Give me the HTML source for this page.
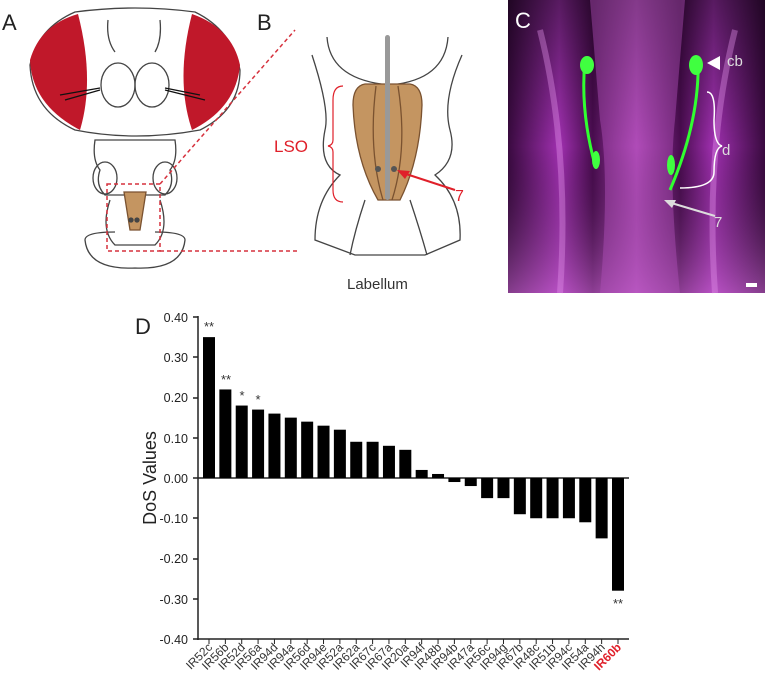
<!DOCTYPE html>
<html><head><meta charset="utf-8"><style>html,body{margin:0;padding:0;background:#fff}svg{display:block}</style></head><body>
<svg width="768" height="681" viewBox="0 0 768 681" xmlns="http://www.w3.org/2000/svg" font-family="Liberation Sans, sans-serif">
<!-- Panel A -->
<g fill="none" stroke="#444" stroke-width="1.3">
<path d="M75 12 Q135 4 195 12 Q232 30 240 70 Q240 110 200 130 Q135 142 75 130 Q32 110 30 65 Q38 28 75 12Z" fill="#fff"/>
<path d="M78 14 Q40 25 30 60 Q32 105 80 130 Q95 80 78 14Z" fill="#c0182a" stroke="none"/>
<path d="M192 14 Q232 28 240 65 Q236 108 192 130 Q175 80 192 14Z" fill="#c0182a" stroke="none"/>
<path d="M108 20 Q106 40 115 52 M160 20 Q162 40 155 52"/>
<ellipse cx="118" cy="85" rx="17" ry="22"/><ellipse cx="152" cy="85" rx="17" ry="22"/>
<path d="M60 95 L100 88 M65 100 L100 90 M200 95 L165 88 M205 100 L165 90" stroke="#111"/>
<path d="M95 140 Q92 160 100 170 Q95 185 105 195 L165 195 Q175 185 170 170 Q178 160 175 140Z"/>
<ellipse cx="105" cy="178" rx="12" ry="16"/><ellipse cx="165" cy="178" rx="12" ry="16"/>
<path d="M110 200 Q100 230 115 245 L155 245 Q170 230 160 200"/>
<path d="M115 232 Q85 232 85 240 Q88 270 135 268 Q182 270 185 240 Q185 232 155 232"/>
<path d="M124 192 L146 192 L140 230 L130 230Z" fill="#c49561" stroke="#7a5230"/>
<circle cx="131" cy="220" r="2" fill="#444"/><circle cx="137" cy="220" r="2" fill="#444"/>
</g>
<rect x="107" y="184" width="53" height="67" fill="none" stroke="#d6313d" stroke-width="1.5" stroke-dasharray="4,3"/>
<path d="M160 184 L295 30 M160 251 L300 251" stroke="#d6313d" stroke-width="1.5" stroke-dasharray="4,3"/>
<!-- Panel B -->
<g fill="none" stroke="#444" stroke-width="1.3">
<path d="M327 37 Q330 80 390 85 Q445 80 448 37"/>
<path d="M312 55 Q330 110 325 130 Q318 165 340 175 Q315 200 315 240 L355 255 L425 255 L460 240 Q462 200 435 175 Q458 160 450 130 Q442 100 462 55"/>
<path d="M365 200 Q355 230 350 255 M410 200 Q420 230 427 255"/>
<path d="M365 84 Q353 86 353 105 Q355 160 378 200 L400 200 Q420 160 422 105 Q422 86 410 84Z" fill="#c49561" stroke="#7a5230"/>
<path d="M376 86 Q368 150 383 200 M398 86 Q408 150 392 200" stroke="#7a5230"/>
</g>
<rect x="385" y="35" width="5" height="165" rx="2.5" fill="#999"/>
<circle cx="378" cy="169" r="3" fill="#555"/><circle cx="394" cy="169" r="3" fill="#555"/>
<path d="M400 172 L455 190" stroke="#e0202a" stroke-width="2"/><path d="M397 170 L410 171 L405 179Z" fill="#e0202a"/>
<path d="M343 86 Q333 86 333 100 L333 140 Q333 145 328 146 Q333 147 333 152 L333 190 Q333 202 343 202" fill="none" stroke="#e0202a" stroke-width="1.2"/>
<text x="274" y="152" font-size="17" fill="#e0202a">LSO</text>
<text x="455" y="201" font-size="16" fill="#e0202a">7</text>
<text x="347" y="289" font-size="15" fill="#333">Labellum</text>
<text x="2" y="30" font-size="22" fill="#222">A</text>
<text x="257" y="30" font-size="22" fill="#222">B</text>
<!-- Panel C -->
<defs><linearGradient id="pg" x1="0" x2="1"><stop offset="0" stop-color="#3a0a40"/><stop offset="0.2" stop-color="#a030b0"/><stop offset="0.33" stop-color="#4a0c50"/><stop offset="0.5" stop-color="#b048b8"/><stop offset="0.67" stop-color="#4a0c50"/><stop offset="0.8" stop-color="#a030b0"/><stop offset="1" stop-color="#3a0a40"/></linearGradient>
<linearGradient id="vg" x1="0" y1="0" x2="0" y2="1"><stop offset="0" stop-color="#000" stop-opacity="0.45"/><stop offset="0.5" stop-color="#000" stop-opacity="0"/><stop offset="1" stop-color="#d070d8" stop-opacity="0.5"/></linearGradient></defs>
<rect x="508" y="0" width="257" height="293" fill="url(#pg)"/>
<rect x="508" y="0" width="257" height="293" fill="url(#vg)"/>
<path d="M590 0 L600 120 Q610 180 600 293 L680 293 Q668 180 675 120 L685 0Z" fill="#b050b8" opacity="0.45"/>
<path d="M540 30 Q570 150 560 293 M735 30 Q705 150 715 293" stroke="#e090e8" stroke-width="6" fill="none" opacity="0.4"/>
<path d="M585 60 Q580 110 595 165 M698 60 Q700 120 670 190" stroke="#30ff30" stroke-width="3" fill="none"/>
<ellipse cx="587" cy="65" rx="7" ry="9" fill="#40ff40"/><ellipse cx="696" cy="65" rx="7" ry="10" fill="#40ff40"/>
<ellipse cx="596" cy="160" rx="4" ry="9" fill="#40ff40"/><ellipse cx="671" cy="165" rx="4" ry="10" fill="#40ff40"/>
<path d="M707 63 L720 56 L720 70Z" fill="#fff"/>
<text x="727" y="66" font-size="15" fill="#ddd">cb</text>
<path d="M707 92 Q716 92 714 120 Q714 144 722 146 Q714 148 714 172 Q714 188 680 188" stroke="#fff" fill="none" stroke-width="1.5"/>
<text x="722" y="155" font-size="15" fill="#ddd">d</text>
<path d="M715 216 L668 202" stroke="#ddd" stroke-width="2"/><path d="M664 200 L676 200 L672 208Z" fill="#ddd"/>
<text x="714" y="227" font-size="15" fill="#ddd">7</text>
<rect x="746" y="283" width="11" height="4" fill="#fff"/>
<text x="515" y="28" font-size="22" fill="#fff">C</text>
<!-- Panel D -->
<text x="135" y="334" font-size="22" fill="#222">D</text>
<g font-size="12.5" fill="#222" text-anchor="end">
<text x="188" y="322">0.40</text><text x="188" y="362">0.30</text><text x="188" y="402">0.20</text><text x="188" y="443">0.10</text><text x="188" y="483">0.00</text><text x="188" y="523">-0.10</text><text x="188" y="563">-0.20</text><text x="188" y="604">-0.30</text><text x="188" y="644">-0.40</text>
</g>
<text transform="translate(156,478) rotate(-90)" font-size="18" fill="#222" text-anchor="middle">DoS Values</text>
<g stroke="#222" stroke-width="1.5">
<line x1="198" y1="316" x2="198" y2="640"/>
<line x1="197" y1="639" x2="629" y2="639"/>
<line x1="198" y1="478" x2="629" y2="478"/>
<path d="M193 317H198M193 357H198M193 398H198M193 438H198M193 478H198M193 518H198M193 559H198M193 599H198M193 639H198"/>
</g>
<g id="bars"></g>
<g id="labs" font-size="12" fill="#333"></g>
<g font-size="13" fill="#333" text-anchor="middle">
<text x="209" y="331">**</text><text x="226" y="384">**</text><text x="242" y="400">*</text><text x="258" y="404">*</text><text x="618" y="608">**</text>
</g>
<script>
var v=[.35,.22,.18,.17,.16,.15,.14,.13,.12,.09,.09,.08,.07,.02,.01,-.01,-.02,-.05,-.05,-.09,-.10,-.10,-.10,-.11,-.15,-.28];
var n=["IR52c","IR56b","IR52d","IR56a","IR94d","IR94a","IR56d","IR94e","IR52a","IR62a","IR67c","IR67a","IR20a","IR94f","IR48b","IR94b","IR47a","IR56c","IR94g","IR67b","IR48c","IR51b","IR94c","IR54a","IR94h","IR60b"];
var ns="http://www.w3.org/2000/svg",b=document.getElementById("bars"),l=document.getElementById("labs");
for(var i=0;i<26;i++){var x=209+i*16.36,h=v[i]*402.5;
var r=document.createElementNS(ns,"rect");r.setAttribute("x",x-6);r.setAttribute("width",12);
r.setAttribute("y",h>0?478-h:478);r.setAttribute("height",Math.abs(h));b.appendChild(r);
var t=document.createElementNS(ns,"line");t.setAttribute("x1",x);t.setAttribute("x2",x);t.setAttribute("y1",639);t.setAttribute("y2",644);t.setAttribute("stroke","#222");b.appendChild(t);
var tx=document.createElementNS(ns,"text");tx.setAttribute("text-anchor","end");tx.setAttribute("transform","translate("+(x+4)+",648) rotate(-45)");tx.textContent=n[i];
if(i==25){tx.setAttribute("fill","#e0202a");tx.setAttribute("font-weight","bold");}l.appendChild(tx);}
</script>
</svg>
</body></html>
